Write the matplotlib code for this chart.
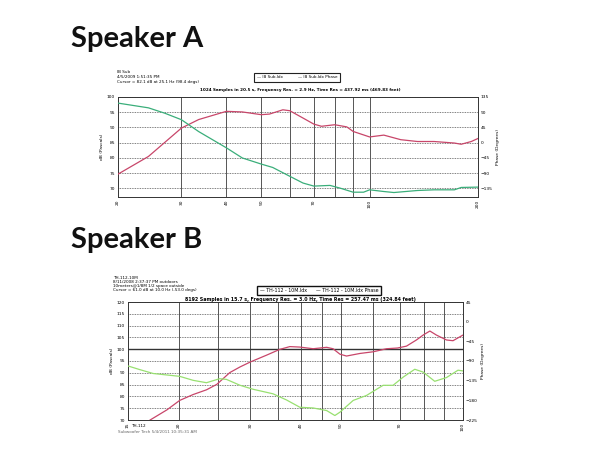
import matplotlib
matplotlib.use("Agg")
import matplotlib.pyplot as plt
from matplotlib.ticker import FixedLocator, NullLocator, FixedFormatter

# ---------------- Speaker A data ----------------
a_freq_db = [20, 24.3, 30, 33.5, 40, 44.3, 50, 52.7, 57.4, 60, 65.3, 70, 73.5, 80,
             86.4, 90, 100, 109.5, 122, 135.8, 151, 172, 179.6, 191.6, 200]
a_db = [74.7, 80.5, 89.8, 92.6, 95.3, 95.1, 94.2, 94.4, 95.8, 95.5, 93.1, 91.1, 90.4,
        90.9, 90.2, 88.7, 86.9, 87.5, 86.0, 85.4, 85.4, 84.9, 84.5, 85.4, 86.4]
a_freq_ph = [20, 24.3, 27.0, 30, 33.5, 40, 44.3, 50, 53.8, 60, 65.3, 70, 77.6, 82.8,
             90, 96.2, 100, 109.5, 116.8, 135.8, 151, 172, 179.6, 200]
a_phase = [117, 103, 87, 68, 33, -15, -45, -63, -73, -99, -119, -128, -126, -134,
           -146, -146, -139, -144, -147, -141, -139, -139, -132, -131]
a_xticks = [20, 30, 40, 50, 70, 100, 200]
a_xgrid = [30, 40, 50, 60, 70, 80, 90, 100]
a_yticks = [70, 75, 80, 85, 90, 95, 100]
a_ptick = [-135, -90, -45, 0, 45, 90, 135]

# ---------------- Speaker B data ----------------
b_freq_db = [17.0, 18.7, 20.1, 21.7, 23.4, 24.8, 26.7, 28.3, 30, 32.9, 35.4, 37.5,
             39.7, 42.8, 46.2, 47.9, 49.8, 51.7, 55.8, 60.1, 64.9, 69.0, 72.6, 76.8,
             79.8, 82.9, 86.0, 91.1, 94.5, 100]
b_db = [70.0, 74.3, 78.3, 80.8, 82.8, 85.1, 90.1, 92.5, 94.6, 97.5, 99.9, 101.1,
        100.9, 100.2, 100.8, 100.2, 97.9, 97.1, 98.2, 98.9, 100.2, 100.5, 101.3,
        103.9, 106.0, 107.7, 106.0, 103.9, 103.6, 106.0]
b_freq_ph = [15.0, 16.0, 17.3, 20.1, 21.7, 23.4, 25.2, 26.2, 28.3, 30.5, 34.1, 36.8,
             39.7, 42.8, 46.2, 48.4, 49.8, 53.7, 57.9, 63.6, 67.3, 71.3, 76.1, 79.8,
             85.2, 91.1, 97.2, 100]
b_phase_db = [92.9, 91.4, 89.7, 88.5, 86.8, 85.8, 87.5, 87.2, 84.7, 83.0, 81.1, 78.5,
              75.4, 75.1, 74.0, 71.9, 73.3, 78.3, 80.4, 84.7, 84.7, 88.2, 91.5, 90.3,
              86.4, 88.0, 91.1, 90.8]
b_phase = [45 - (120 - v) * 5.4 for v in b_phase_db]
b_xticks = [15, 20, 30, 40, 50, 70, 100]
b_xgrid = [20, 25, 30, 35, 40, 45, 50, 60, 70, 80, 90]
b_yticks = [70, 75, 80, 85, 90, 95, 100, 105, 110, 115, 120]
b_ptick = [-225, -180, -135, -90, -45, 0, 45]

RED = "#c8466a"
GREEN_A = "#3aae7a"
GREEN_B = "#98e070"
GRID = "#555555"

fig = plt.figure(figsize=(6, 4.5), dpi=100)
fig.patch.set_facecolor("white")

fig.text(71 / 600, 1 - 46.7 / 450, "Speaker A", fontsize=21, fontweight="bold",
         family="Lato", va="baseline", ha="left", color="#111111")
fig.text(71 / 600, 1 - 248.5 / 450, "Speaker B", fontsize=21, fontweight="bold",
         family="Lato", va="baseline", ha="left", color="#111111")


def setup(ax, xlim, ylim, xticks, xgrid, yticks, ptick, plim):
    ax.set_xscale("log")
    ax.set_xlim(*xlim)
    ax.set_ylim(*ylim)
    ax.xaxis.set_major_locator(FixedLocator(xticks))
    ax.xaxis.set_major_formatter(FixedFormatter([str(t) for t in xticks]))
    ax.xaxis.set_minor_locator(NullLocator())
    ax.set_yticks(yticks)
    for g in xgrid:
        ax.axvline(g, color=GRID, lw=0.7, zorder=1)
    for y in yticks:
        ax.axhline(y, color=GRID, lw=0.6, ls=(0, (1, 1)), zorder=1)
    ax.tick_params(axis="x", labelsize=3.2, labelrotation=90, length=0, pad=2)
    ax.tick_params(axis="y", labelsize=3.2, length=0, pad=2)
    for s in ax.spines.values():
        s.set_color("#333333")
        s.set_linewidth(0.7)
    ax.set_ylabel("dB (Pascals)", fontsize=3.2, labelpad=2)
    ax2 = ax.twinx()
    ax2.set_ylim(*plim)
    ax2.set_yticks(ptick)
    ax2.tick_params(axis="y", labelsize=3.2, length=0, pad=2)
    ax2.set_ylabel("Phase (Degrees)", fontsize=3.2, labelpad=2)
    for s in ax2.spines.values():
        s.set_visible(False)
    return ax2


# ---------------- Chart A ----------------
axA = fig.add_axes([118 / 600, 1 - 197 / 450, 360 / 600, 100 / 450])
a_lo = 67.2
axA2 = setup(axA, (20, 200), (a_lo, 100), a_xticks, a_xgrid, a_yticks, a_ptick,
             ((a_lo - 85) * 9, 135))
axA.plot(a_freq_db, a_db, color=RED, lw=0.9, zorder=3)
axA2.plot(a_freq_ph, a_phase, color=GREEN_A, lw=0.9, zorder=3)

fig.text(117 / 600, 1 - 72 / 450, "IB Sub", fontsize=3, va="center")
fig.text(117 / 600, 1 - 77 / 450, "4/5/2009 1:51:35 PM", fontsize=3, va="center")
fig.text(117 / 600, 1 - 82 / 450, "Cursor = 82.1 dB at 25.1 Hz (98.4 degs)",
         fontsize=3, va="center")
fig.text(297 / 600, 1 - 77.5 / 450,
         "\u2014 IB Sub.ldx            \u2014 IB Sub.ldx Phase",
         fontsize=3, ha="center", va="center",
         bbox=dict(boxstyle="square,pad=0.6", fc="white", ec="#222222", lw=0.8))
fig.text(300 / 600, 1 - 90 / 450,
         "1024 Samples in 20.5 s, Frequency Res. = 2.9 Hz, Time Res = 437.92 ms (469.83 feet)",
         fontsize=3, ha="center", va="center", fontweight="bold")

# ---------------- Chart B ----------------
axB = fig.add_axes([128 / 600, 1 - 420 / 450, 335 / 600, 118 / 450])
axB2 = setup(axB, (15, 100), (70, 120), b_xticks, b_xgrid, b_yticks, b_ptick,
             (-225, 45))
axB.axhline(100, color="#333333", lw=1.0, zorder=2)
axB.plot(b_freq_db, b_db, color=RED, lw=0.9, zorder=3)
axB2.plot(b_freq_ph, b_phase, color=GREEN_B, lw=0.9, zorder=3)

fig.text(113 / 600, 1 - 278 / 450, "TH-112-10M", fontsize=3, va="center")
fig.text(113 / 600, 1 - 282 / 450, "8/11/2008 2:37:37 PM outdoors", fontsize=3, va="center")
fig.text(113 / 600, 1 - 286 / 450, "10meters@1/8M 1/2 space outside", fontsize=3, va="center")
fig.text(113 / 600, 1 - 290 / 450, "Cursor = 61.0 dB at 10.0 Hz (-53.0 degs)",
         fontsize=3, va="center")
fig.text(319 / 600, 1 - 290.5 / 450,
         "\u2014 TH-112 - 10M.ldx      \u2014 TH-112 - 10M.ldx Phase",
         fontsize=3.4, ha="center", va="center",
         bbox=dict(boxstyle="square,pad=0.5", fc="white", ec="#111111", lw=1.0))
fig.text(300 / 600, 1 - 300 / 450,
         "8192 Samples in 15.7 s, Frequency Res. = 3.0 Hz, Time Res = 257.47 ms (324.84 feet)",
         fontsize=3.4, ha="center", va="center", fontweight="bold")
fig.text(131.5 / 600, 1 - 426 / 450, "TH-112", fontsize=3, va="center")
fig.text(118 / 600, 1 - 432 / 450, "Subwoofer Tech 5/4/2011 10:35:31 AM",
         fontsize=3, va="center", color="#666666")

fig.savefig("out.png", dpi=100, facecolor="white")
